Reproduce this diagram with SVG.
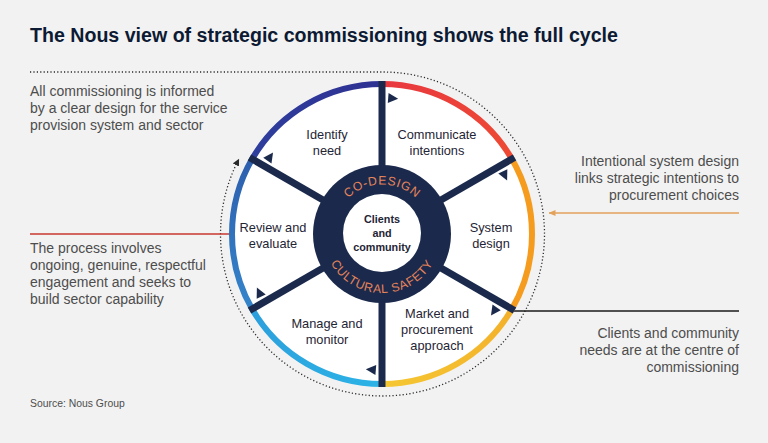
<svg xmlns="http://www.w3.org/2000/svg" width="768" height="443" viewBox="0 0 768 443">
  <style>
    .title { font-family: "Liberation Sans", Arial, sans-serif; font-weight: bold; font-size: 19.6px; fill: #0d1a33; }
    .note { font-family: "Liberation Sans", Arial, sans-serif; font-size: 14px; fill: #4d4d4d; }
    .src { font-family: "Liberation Sans", Arial, sans-serif; font-size: 10.4px; fill: #4d4d4d; }
    .lbl { font-family: "Liberation Sans", Arial, sans-serif; font-size: 12.8px; fill: #1f2535; text-anchor: middle; }
    .hub { font-family: "Liberation Sans", Arial, sans-serif; font-size: 10.8px; font-weight: bold; fill: #1f2535; text-anchor: middle; }
    .ring { font-family: "Liberation Sans", Arial, sans-serif; font-size: 12.2px; fill: #e8855a; letter-spacing: 0.7px; }
    .arc { fill: none; stroke-width: 6; }
    .spoke { stroke: #1b2a4c; stroke-width: 7; }
    .tri { fill: #1b2a4c; }
  </style>
  <defs>
    <marker id="mDot" markerUnits="userSpaceOnUse" markerWidth="7" markerHeight="7" viewBox="0 0 7 7" refX="6" refY="3.5" orient="auto">
      <path d="M0,0 L7,3.5 L0,7 Z" fill="#2a2a2a"/>
    </marker>
    <marker id="mTan" markerUnits="userSpaceOnUse" markerWidth="7" markerHeight="6" viewBox="0 0 7 6" refX="6.5" refY="3" orient="auto">
      <path d="M0,0 L7,3 L0,6 Z" fill="#e3a25a"/>
    </marker>
    <marker id="mOr" markerUnits="userSpaceOnUse" markerWidth="6" markerHeight="6" viewBox="0 0 6 6" refX="5.5" refY="3" orient="auto">
      <path d="M0,0 L6,3 L0,6 Z" fill="#e07b50"/>
    </marker>
    <path id="tri" d="M-4.5,-5 L5.5,0 L-4.5,5 Z"/>
    <path id="pTop" d="M332.5,234 A49.5,49.5 0 0 1 431.5,234"/>
    <path id="pBot" d="M323,234 A59,59 0 0 0 441,234"/>
    <linearGradient id="gIdent" gradientUnits="userSpaceOnUse" x1="382" y1="84" x2="252" y2="159">
      <stop offset="0" stop-color="#2e3192"/>
      <stop offset="1" stop-color="#2e3f9e"/>
    </linearGradient>
    <linearGradient id="gRev" gradientUnits="userSpaceOnUse" x1="252" y1="159" x2="252" y2="309">
      <stop offset="0" stop-color="#2d5fae"/>
      <stop offset="1" stop-color="#3585cb"/>
    </linearGradient>
    <linearGradient id="gMan" gradientUnits="userSpaceOnUse" x1="252" y1="309" x2="382" y2="384">
      <stop offset="0" stop-color="#2c9fdc"/>
      <stop offset="1" stop-color="#2cb3e6"/>
    </linearGradient>
    <linearGradient id="gMkt" gradientUnits="userSpaceOnUse" x1="382" y1="384" x2="512" y2="309">
      <stop offset="0" stop-color="#f5c733"/>
      <stop offset="1" stop-color="#f3b02a"/>
    </linearGradient>
    <linearGradient id="gCom" gradientUnits="userSpaceOnUse" x1="382" y1="84" x2="512" y2="159">
      <stop offset="0" stop-color="#e8383f"/>
      <stop offset="1" stop-color="#ee4a33"/>
    </linearGradient>
  </defs>

  <rect x="0" y="0" width="768" height="443" fill="#f2f2f2"/>

  <text class="title" x="30" y="42">The Nous view of strategic commissioning shows the full cycle</text>

  <g id="connectors">
    <path d="M30,72 H382 A162,162 0 1 1 238.6,159.6" fill="none" stroke="#2a2a2a" stroke-width="1.3" stroke-dasharray="1.2 2.2" marker-end="url(#mDot)"/>
    <line x1="30" y1="234" x2="229" y2="234" stroke="#c8372d" stroke-width="1.5"/>
    <line x1="739" y1="213" x2="549" y2="213" stroke="#e3a25a" stroke-width="1.6" marker-end="url(#mTan)"/>
    <line x1="739" y1="311" x2="514" y2="311" stroke="#1a1a1a" stroke-width="1.5"/>
    <line x1="313" y1="232" x2="329" y2="232" stroke="#e07b50" stroke-width="1.6" marker-end="url(#mOr)"/>
  </g>

  <g id="note-design">
    <text class="note" x="30" y="96">All commissioning is informed</text>
    <text class="note" x="30" y="113">by a clear design for the service</text>
    <text class="note" x="30" y="130">provision system and sector</text>
  </g>
  <g id="note-process">
    <text class="note" x="30" y="253">The process involves</text>
    <text class="note" x="30" y="270">ongoing, genuine, respectful</text>
    <text class="note" x="30" y="287">engagement and seeks to</text>
    <text class="note" x="30" y="304">build sector capability</text>
  </g>
  <g id="note-system" text-anchor="end">
    <text class="note" x="739" y="166">Intentional system design</text>
    <text class="note" x="739" y="183">links strategic intentions to</text>
    <text class="note" x="739" y="200">procurement choices</text>
  </g>
  <g id="note-clients" text-anchor="end">
    <text class="note" x="739" y="338">Clients and community</text>
    <text class="note" x="739" y="355">needs are at the centre of</text>
    <text class="note" x="739" y="372">commissioning</text>
  </g>

  <text class="src" x="30" y="407">Source: Nous Group</text>

  <g id="wheel">
    <circle cx="382" cy="234" r="151" fill="#ffffff"/>
  </g>

  <g id="seg-identify">
    <path class="arc" stroke="url(#gIdent)" d="M382,84 A150,150 0 0 0 252.1,159"/>
    <text class="lbl" x="327" y="139">Identify</text>
    <text class="lbl" x="327" y="155">need</text>
  </g>
  <g id="seg-communicate">
    <path class="arc" stroke="url(#gCom)" d="M382,84 A150,150 0 0 1 511.9,159"/>
    <text class="lbl" x="437" y="139">Communicate</text>
    <text class="lbl" x="437" y="155">intentions</text>
  </g>
  <g id="seg-system">
    <path class="arc" stroke="#f59c1f" d="M511.9,159 A150,150 0 0 1 511.9,309"/>
    <text class="lbl" x="491" y="232">System</text>
    <text class="lbl" x="491" y="248">design</text>
  </g>
  <g id="seg-market">
    <path class="arc" stroke="url(#gMkt)" d="M511.9,309 A150,150 0 0 1 382,384"/>
    <text class="lbl" x="437" y="318">Market and</text>
    <text class="lbl" x="437" y="334">procurement</text>
    <text class="lbl" x="437" y="350">approach</text>
  </g>
  <g id="seg-manage">
    <path class="arc" stroke="url(#gMan)" d="M382,384 A150,150 0 0 1 252.1,309"/>
    <text class="lbl" x="327" y="328">Manage and</text>
    <text class="lbl" x="327" y="344">monitor</text>
  </g>
  <g id="seg-review">
    <path class="arc" stroke="url(#gRev)" d="M252.1,309 A150,150 0 0 1 252.1,159"/>
    <text class="lbl" x="273" y="232">Review and</text>
    <text class="lbl" x="273" y="248">evaluate</text>
  </g>

  <g id="spokes">
    <line class="spoke" x1="382" y1="174" x2="382" y2="81"/>
    <line class="spoke" x1="434" y1="204" x2="514.5" y2="157.5"/>
    <line class="spoke" x1="434" y1="264" x2="514.5" y2="310.5"/>
    <line class="spoke" x1="382" y1="294" x2="382" y2="387"/>
    <line class="spoke" x1="330" y1="264" x2="249.5" y2="310.5"/>
    <line class="spoke" x1="330" y1="204" x2="249.5" y2="157.5"/>
  </g>

  <g id="flow-arrows">
    <use href="#tri" class="tri" transform="translate(382 234) rotate(-85.5) translate(136 0) rotate(90)"/>
    <use href="#tri" class="tri" transform="translate(382 234) rotate(-25.5) translate(136 0) rotate(90)"/>
    <use href="#tri" class="tri" transform="translate(382 234) rotate(34.5) translate(136 0) rotate(90)"/>
    <use href="#tri" class="tri" transform="translate(382 234) rotate(94.5) translate(136 0) rotate(90)"/>
    <use href="#tri" class="tri" transform="translate(382 234) rotate(154.5) translate(136 0) rotate(90)"/>
    <use href="#tri" class="tri" transform="translate(382 234) rotate(214.5) translate(136 0) rotate(90)"/>
  </g>

  <g id="hub">
    <circle cx="382" cy="234" r="69" fill="#1b2a4c"/>
    <circle cx="382" cy="233" r="39" fill="#ffffff"/>
    <text class="ring"><textPath href="#pTop" startOffset="50%" text-anchor="middle">CO-DESIGN</textPath></text>
    <text class="ring"><textPath href="#pBot" startOffset="50%" text-anchor="middle">CULTURAL SAFETY</textPath></text>
    <text class="hub" x="382" y="223">Clients</text>
    <text class="hub" x="382" y="237">and</text>
    <text class="hub" x="382" y="251">community</text>
  </g>
</svg>
